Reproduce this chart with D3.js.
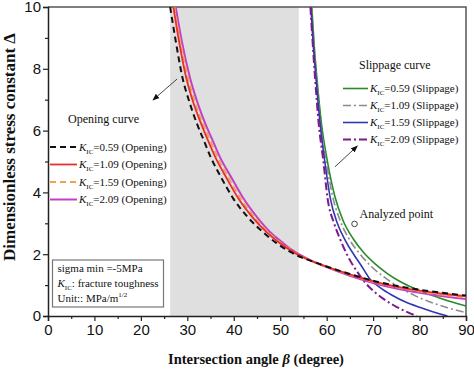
<!DOCTYPE html>
<html>
<head>
<meta charset="utf-8">
<script src="https://cdn.jsdelivr.net/npm/d3@7"></script>
<style>
    body { margin: 0; background: #fff; }
    text { font-family: "Liberation Serif", "Times New Roman", serif; fill: #111; }
    .tick text { font-family: "Liberation Sans", Arial, sans-serif; font-size: 15px; }
</style>
</head>
<body>
<div id="chart"></div>
<script>

// Kic values (MPa/m^1/2)
var kValues = ["0.59", "1.09", "1.59", "2.09"];

// opening curves, [beta, delta]
var open059 = [[26.3,10],[27.5,8.9],[28.9,7.75],[30.5,6.9],[32,6.25],[33.5,5.7],[35,5.15],[37.4,4.45],[39.9,3.8],[43,3.2],[46.4,2.7],[49.2,2.36],[52.1,2.08],[54.5,1.9],[57.1,1.76],[60,1.6],[65,1.36],[70,1.14],[75,0.98],[80,0.85],[85,0.75],[90,0.66]];
var open109 = [[27,10],[28.2,8.9],[29.7,7.75],[31.3,6.9],[32.9,6.25],[34.4,5.7],[36,5.15],[38.5,4.45],[41,3.8],[44,3.2],[47,2.72],[49.8,2.37],[52.5,2.1],[54.5,1.93],[57.1,1.76],[60,1.6],[65,1.35],[70,1.12],[75,0.95],[80,0.82],[85,0.72],[90,0.64]];
var open159 = [[27.2,10],[28.5,8.9],[30.1,7.75],[31.7,6.9],[33.3,6.25],[34.9,5.7],[36.5,5.15],[39,4.45],[41.5,3.8],[44.5,3.2],[47.4,2.72],[50,2.38],[52.6,2.11],[54.6,1.94],[57.1,1.76],[60,1.59],[65,1.33],[70,1.1],[75,0.93],[80,0.79],[85,0.68],[90,0.6]];
var open209 = [[27.5,10],[28.8,8.9],[30.5,7.75],[32.2,6.9],[33.8,6.25],[35.4,5.7],[37,5.15],[39.6,4.45],[42.1,3.8],[45,3.2],[47.8,2.72],[50.3,2.4],[52.6,2.13],[54.6,1.95],[57.1,1.76],[60,1.58],[65,1.3],[70,1.07],[75,0.89],[80,0.75],[85,0.64],[90,0.55]];

// slippage curves, [beta, delta]
var slip059 = [[56.8,10],[57.3,8.8],[57.9,7.7],[58.9,6.2],[60.1,5.05],[61.8,3.85],[63.5,3.1],[65.7,2.5],[68,2.05],[70.5,1.68],[73,1.38],[75.5,1.14],[78.4,0.92],[81,0.76],[84,0.6],[87,0.45],[90,0.32]];
var slip109 = [[56.7,10],[57.2,8.8],[57.8,7.7],[58.7,6.2],[59.9,5.0],[61.4,3.8],[63,3.05],[65,2.45],[67.2,2.0],[69.5,1.62],[72,1.3],[75.8,0.92],[79,0.66],[82,0.47],[86,0.27],[90,0.11]];
var slip159 = [[56.6,10],[57.1,8.8],[57.7,7.7],[58.6,6.2],[59.6,5.0],[60.8,3.8],[62.3,3.0],[64,2.45],[65.8,2.0],[67.5,1.62],[69.3,1.2],[71.5,0.92],[74,0.68],[77,0.45],[80,0.28],[83,0.13],[86,0]];
var slip209 = [[56.5,10],[57,8.8],[57.5,7.7],[58.3,6.2],[59.3,5.0],[60.2,3.8],[61.6,3.0],[63,2.45],[64.5,1.95],[66.5,1.45],[68.3,1.08],[70,0.82],[72,0.58],[74.5,0.34],[77,0.15],[79.4,0]];

// shaded band, analyzed point
var bandRange = [26.3, 54];
var analyzedPoint = [66, 2.98];

var xTicks = [0, 10, 20, 30, 40, 50, 60, 70, 80, 90];
var yTicks = [0, 2, 4, 6, 8, 10];


stressChart = function(_parentElement) {
    this.parentElement = _parentElement;
    this.initVis();
}

stressChart.prototype.initVis = function() {
    var vis = this;

    vis.margin = {top: 7, right: 8, bottom: 53, left: 48};
    vis.width = 474 - vis.margin.left - vis.margin.right;
    vis.height = 369 - vis.margin.top - vis.margin.bottom;

    vis.svg = d3.select("#" + vis.parentElement).append("svg")
        .attr("width", 474)
        .attr("height", 369);

    var defs = vis.svg.append("defs");
    defs.append("clipPath").attr("id", "clip")
        .append("rect").attr("width", vis.width).attr("height", vis.height);
    defs.append("marker")
        .attr("id", "arrow")
        .attr("viewBox", "0 0 10 10")
        .attr("refX", 9).attr("refY", 5)
        .attr("markerWidth", 7).attr("markerHeight", 7)
        .attr("markerUnits", "userSpaceOnUse")
        .attr("orient", "auto")
        .append("path").attr("d", "M0,1 L10,5 L0,9 Z").attr("fill", "#111");

    vis.g = vis.svg.append("g")
        .attr("transform", "translate(" + vis.margin.left + "," + vis.margin.top + ")");

    vis.x = d3.scaleLinear().domain([0, 90]).range([0, vis.width]);
    vis.y = d3.scaleLinear().domain([0, 10]).range([vis.height, 0]);

    vis.line = d3.line()
        .x(function(d) { return vis.x(d[0]); })
        .y(function(d) { return vis.y(d[1]); })
        .curve(d3.curveMonotoneX);
}

stressChart.prototype.updateVis = function() {
    var vis = this;
    var x = vis.x, y = vis.y;

    // grey band
    vis.g.append("rect")
        .attr("x", x(bandRange[0]))
        .attr("y", 0)
        .attr("width", x(bandRange[1]) - x(bandRange[0]))
        .attr("height", vis.height)
        .attr("fill", "#dfdfdf");

    // frame top / right
    vis.g.append("path")
        .attr("d", "M0,0 H" + vis.width + " V" + vis.height)
        .attr("fill", "none").attr("stroke", "#555").attr("stroke-width", 1.5);

    var series = [
        {data: slip059, color: "#2a8a2a", dash: null, w: 1.6},
        {data: slip109, color: "#8c8c8c", dash: "8,3,2,3", w: 1.6},
        {data: slip159, color: "#3038b0", dash: null, w: 1.6},
        {data: slip209, color: "#7d1a8a", dash: "8,3,2,3", w: 2},
        {data: open209, color: "#c23fc8", dash: null, w: 2},
        {data: open159, color: "#f3a050", dash: "6,4", w: 1.8},
        {data: open109, color: "#e8302a", dash: null, w: 1.8},
        {data: open059, color: "#111", dash: "6,4", w: 2}
    ];

    vis.g.append("g").attr("clip-path", "url(#clip)")
        .selectAll("path")
        .data(series)
        .enter()
        .append("path")
        .attr("d", function(d) { return vis.line(d.data); })
        .attr("fill", "none")
        .attr("stroke", function(d) { return d.color; })
        .attr("stroke-width", function(d) { return d.w; })
        .attr("stroke-dasharray", function(d) { return d.dash; });

    // axes
    vis.g.append("g")
        .attr("transform", "translate(0," + vis.height + ")")
        .call(d3.axisBottom(x).tickValues(xTicks).tickSize(5).tickPadding(3).tickFormat(d3.format("d")));
    vis.g.append("g")
        .attr("transform", "translate(0," + vis.height + ")")
        .call(d3.axisBottom(x).tickValues(d3.range(5, 90, 10)).tickSize(3).tickFormat(""))
        .select(".domain").remove();
    vis.g.append("g")
        .call(d3.axisLeft(y).tickValues(yTicks).tickSize(5).tickPadding(2));
    vis.g.append("g")
        .call(d3.axisLeft(y).tickValues([1, 3, 5, 7, 9]).tickSize(3).tickFormat(""))
        .select(".domain").remove();
    vis.g.selectAll(".domain").attr("stroke", "#222").attr("stroke-width", 1.5);
    vis.g.selectAll(".tick line").attr("stroke", "#222").attr("stroke-width", 1.2);
    vis.g.selectAll(".tick text").attr("fill", "#222");

    // axis titles
    vis.svg.append("text")
        .attr("x", 256).attr("y", 364)
        .attr("text-anchor", "middle")
        .attr("font-weight", "bold").attr("font-size", "14.5px")
        .html('Intersection angle <tspan font-style="italic">β</tspan> (degree)');
    vis.svg.append("text")
        .attr("transform", "translate(15,147) rotate(-90)")
        .attr("text-anchor", "middle")
        .attr("font-weight", "bold").attr("font-size", "17px")
        .text("Dimensionless stress constant Δ");

    // legends
    function kLabel(sel, k, suffix) {
        sel.append("tspan").attr("font-style", "italic").text("K");
        sel.append("tspan").attr("font-size", "7px").attr("dy", 3).text("IC");
        sel.append("tspan").attr("dy", -3).text("=" + k + " (" + suffix + ")");
    }

    var openLeg = vis.svg.append("g").attr("transform", "translate(50,0)");
    openLeg.append("text").attr("x", 18).attr("y", 123).attr("font-size", "12px").text("Opening curve");
    var openStyle = series.slice(4).reverse();
    kValues.forEach(function(k, i) {
        var yy = 147 + i * 17.5;
        openLeg.append("line")
            .attr("x1", 0).attr("x2", 27).attr("y1", yy).attr("y2", yy)
            .attr("stroke", openStyle[i].color).attr("stroke-width", openStyle[i].w)
            .attr("stroke-dasharray", openStyle[i].dash);
        var t = openLeg.append("text").attr("x", 29).attr("y", yy + 3.5).attr("font-size", "11px");
        kLabel(t, k, "Opening");
    });

    var slipLeg = vis.svg.append("g").attr("transform", "translate(343,0)");
    slipLeg.append("text").attr("x", 16).attr("y", 69).attr("font-size", "12px").text("Slippage curve");
    kValues.forEach(function(k, i) {
        var yy = 88.5 + i * 17;
        slipLeg.append("line")
            .attr("x1", 0).attr("x2", 25).attr("y1", yy).attr("y2", yy)
            .attr("stroke", series[i].color).attr("stroke-width", series[i].w)
            .attr("stroke-dasharray", series[i].dash);
        var t = slipLeg.append("text").attr("x", 27).attr("y", yy + 3.5).attr("font-size", "11px");
        kLabel(t, k, "Slippage");
    });

    // arrows
    vis.g.append("line")
        .attr("x1", x(27.8)).attr("y1", y(7.67))
        .attr("x2", x(22.6)).attr("y2", y(6.99))
        .attr("stroke", "#333").attr("stroke-width", 0.9)
        .attr("marker-end", "url(#arrow)");
    vis.g.append("line")
        .attr("x1", x(61.8)).attr("y1", y(4.83))
        .attr("x2", x(66.6)).attr("y2", y(5.5))
        .attr("stroke", "#333").attr("stroke-width", 0.9)
        .attr("marker-end", "url(#arrow)");

    // analyzed point
    vis.g.append("circle")
        .attr("cx", x(analyzedPoint[0])).attr("cy", y(analyzedPoint[1]))
        .attr("r", 2.8)
        .attr("fill", "#fff").attr("stroke", "#444").attr("stroke-width", 1);
    vis.g.append("text")
        .attr("x", x(analyzedPoint[0]) + 5).attr("y", y(analyzedPoint[1]) - 6)
        .attr("font-size", "12px")
        .text("Analyzed point");

    // info box
    var box = vis.svg.append("g").attr("transform", "translate(52.5,260)");
    box.append("rect").attr("width", 111).attr("height", 47)
        .attr("fill", "#fff").attr("stroke", "#777").attr("stroke-width", 1.2);
    box.append("text").attr("x", 5).attr("y", 12).attr("font-size", "11px").text("sigma min =-5MPa");
    var t2 = box.append("text").attr("x", 5).attr("y", 26.5).attr("font-size", "11px");
    t2.append("tspan").attr("font-style", "italic").text("K");
    t2.append("tspan").attr("font-size", "7px").attr("dy", 3).text("IC");
    t2.append("tspan").attr("dy", -3).text(": fracture toughness");
    var t3 = box.append("text").attr("x", 5).attr("y", 42).attr("font-size", "11px");
    t3.append("tspan").text("Unit:: MPa/m");
    t3.append("tspan").attr("font-size", "7px").attr("dy", -5).text("1/2");
}

var chart = new stressChart("chart");
chart.updateVis();

</script>
</body>
</html>
